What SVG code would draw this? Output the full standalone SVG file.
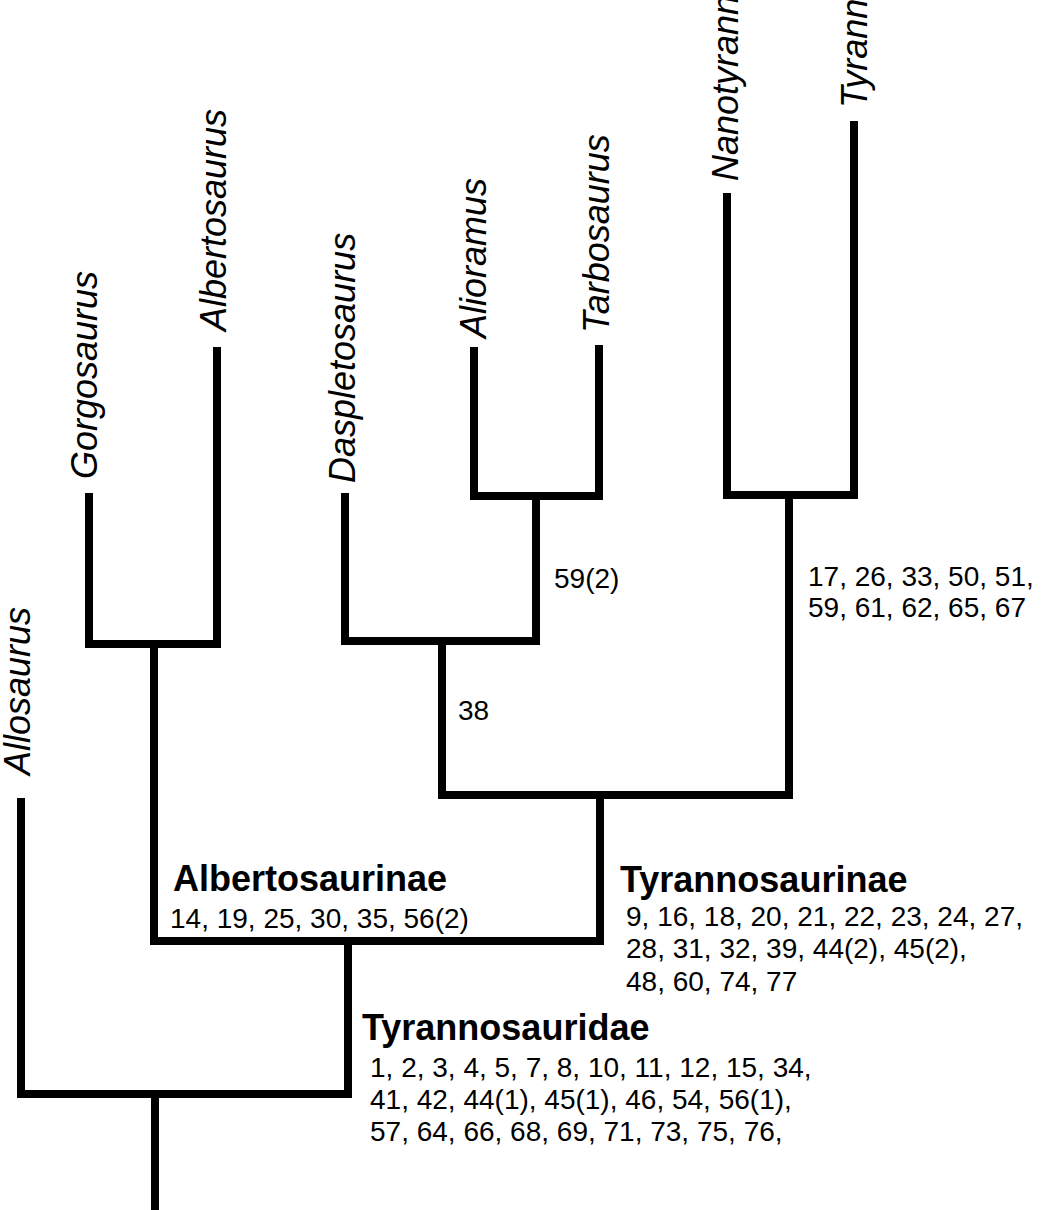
<svg xmlns="http://www.w3.org/2000/svg" width="1060" height="1210" viewBox="0 0 1060 1210">
<style>
.br{fill:none;stroke:#000;stroke-width:8;stroke-linejoin:miter;stroke-linecap:butt}
.tx{font-family:"Liberation Sans",Arial,sans-serif;font-style:italic;font-size:36px;fill:#000}
.cl{font-family:"Liberation Sans",Arial,sans-serif;font-weight:bold;font-size:36px;fill:#000}
.ch{font-family:"Liberation Sans",Arial,sans-serif;font-size:28px;fill:#000}
</style>
<rect width="1060" height="1210" fill="#fff"/>
<g id="connectors">
<polyline class="br" points="89,493 89,644 217,644 217,347"/>
<polyline class="br" points="474,347 474,496 599,496 599,345"/>
<polyline class="br" points="345,493 345,641 536,641 536,496"/>
<polyline class="br" points="727,193 727,495 854,495 854,121"/>
<polyline class="br" points="442,641 442,795 789,795 789,495"/>
<polyline class="br" points="154,644 154,941 600,941 600,795"/>
<polyline class="br" points="21,798 21,1094 348,1094 348,941"/>
<line class="br" x1="155" y1="1094" x2="155" y2="1210"/>
</g>
<g id="allosaurus"><text class="tx" transform="translate(30,775) rotate(-90)">Allosaurus</text></g>
<g id="gorgosaurus"><text class="tx" transform="translate(97,479) rotate(-90)">Gorgosaurus</text></g>
<g id="albertosaurus"><text class="tx" transform="translate(226,331) rotate(-90)">Albertosaurus</text></g>
<g id="daspletosaurus"><text class="tx" transform="translate(355,483) rotate(-90)">Daspletosaurus</text></g>
<g id="alioramus"><text class="tx" transform="translate(486,338) rotate(-90)">Alioramus</text></g>
<g id="tarbosaurus"><text class="tx" transform="translate(609,333) rotate(-90)">Tarbosaurus</text></g>
<g id="nanotyrannus"><text class="tx" transform="translate(738,181) rotate(-90)">Nanotyrannus</text></g>
<g id="tyrannosaurus"><text class="tx" transform="translate(867,108) rotate(-90)">Tyrannosaurus</text></g>
<g id="node-alio-tarbo"><text class="ch" x="554" y="588">59(2)</text></g>
<g id="node-dasp"><text class="ch" x="458" y="720">38</text></g>
<g id="node-nano-tyr"><text class="ch" x="808" y="586">17, 26, 33, 50, 51,</text><text class="ch" x="808" y="617">59, 61, 62, 65, 67</text></g>
<g id="albertosaurinae"><text class="cl" x="173" y="891">Albertosaurinae</text><text class="ch" x="170" y="928">14, 19, 25, 30, 35, 56(2)</text></g>
<g id="tyrannosaurinae"><text class="cl" x="620" y="892">Tyrannosaurinae</text>
<text class="ch" x="626" y="926">9, 16, 18, 20, 21, 22, 23, 24, 27,</text>
<text class="ch" x="626" y="958">28, 31, 32, 39, 44(2), 45(2),</text>
<text class="ch" x="626" y="991">48, 60, 74, 77</text></g>
<g id="tyrannosauridae"><text class="cl" x="362" y="1040">Tyrannosauridae</text>
<text class="ch" x="370" y="1077">1, 2, 3, 4, 5, 7, 8, 10, 11, 12, 15, 34,</text>
<text class="ch" x="370" y="1109">41, 42, 44(1), 45(1), 46, 54, 56(1),</text>
<text class="ch" x="370" y="1141">57, 64, 66, 68, 69, 71, 73, 75, 76,</text></g>
</svg>
